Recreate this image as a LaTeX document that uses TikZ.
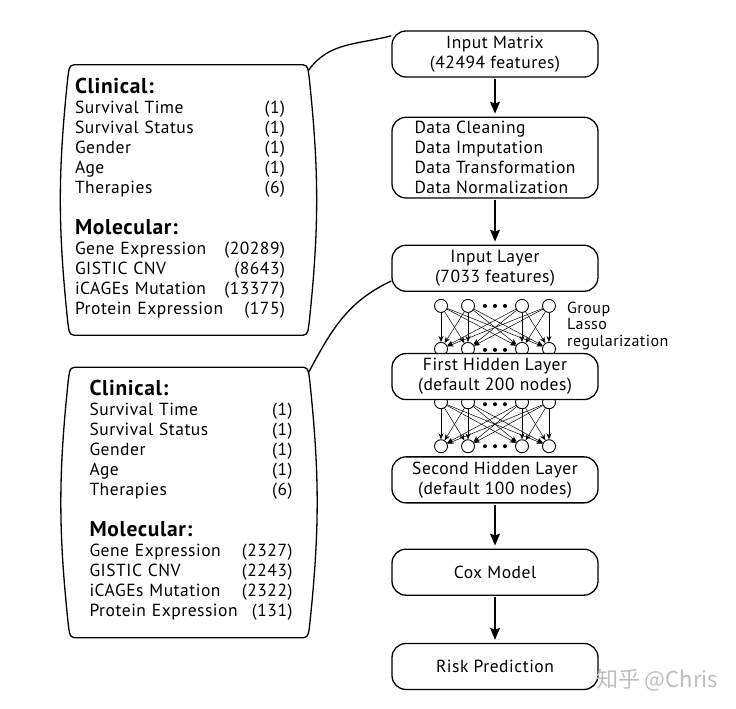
\documentclass[tikz,border=0pt]{standalone}
\usepackage{fontspec}
\setmainfont{PT Sans}[LetterSpace=3]
\newfontfamily\cjkfont{Noto Sans CJK SC}
\usetikzlibrary{arrows.meta, positioning, calc, backgrounds}

\newcommand{\grouphead}[1]{{\bfseries\fontsize{21.5}{20}\selectfont #1}}
\newcommand{\featoutline}[1]{%
  \draw[featline] ([xshift=14pt]#1.north west) -- ([xshift=-14pt]#1.north east)
    to[out=0,in=100] ([xshift=-8pt,yshift=-13pt]#1.north east)
    to[out=-84,in=84] ([xshift=-8pt,yshift=13pt]#1.south east)
    to[out=-100,in=0] ([xshift=-14pt]#1.south east)
    -- ([xshift=14pt]#1.south west)
    to[out=180,in=-80] ([xshift=8pt,yshift=13pt]#1.south west)
    to[out=96,in=-96] ([xshift=8pt,yshift=-13pt]#1.north west)
    to[out=80,in=180] cycle;}

\begin{document}
\begin{tikzpicture}[
    x=1pt, y=1pt,
    node distance=40pt,
    box/.style={rectangle, draw, rounded corners=14pt, line width=1.3pt, fill=white, minimum width=206pt, minimum height=46pt, inner ysep=4pt, align=center, font=\fontsize{17.5}{20}\selectfont},
    featframe/.style={rectangle, minimum width=257pt, minimum height=270pt, inner sep=0pt},
    featline/.style={line width=1.3pt},
    feat/.style={anchor=north west, inner sep=0pt, align=left, font=\fontsize{17.5}{20}\selectfont},
    neuron/.style={circle, draw, line width=0.9pt, fill=white, minimum size=13pt, inner sep=0pt},
    neurondot/.style={circle, fill, minimum size=4pt, inner sep=0pt},
    synapse/.style={line width=0.5pt, -{Stealth[length=6pt,width=5pt]}},
    arrow/.style={line width=1.4pt, -{Stealth[length=12pt,width=10pt,inset=2pt]}, shorten >=3pt, shorten <=1pt},
    linkline/.style={line width=1.3pt}
]
\useasboundingbox (0,0) rectangle (736,-709);

% Pipeline
\node[box] (matrix) at (495,-54) {Input Matrix\\(42494 features)};
\node[box, below=39pt of matrix, align=left] (clean) {Data Cleaning\\Data Imputation\\Data Transformation\\Data Normalization};
\node[box, below=46pt of clean] (inlayer) {Input Layer\\(7033 features)};
\node[box, below=61pt of inlayer] (hidden1) {First Hidden Layer\\(default 200 nodes)};
\node[box, below=56pt of hidden1] (hidden2) {Second Hidden Layer\\(default 100 nodes)};
\node[box, below=45pt of hidden2] (cox) {Cox Model};
\node[box, below=47pt of cox] (risk) {Risk Prediction};

% Arrows
\draw[arrow] (matrix) -- (clean);
\draw[arrow] (clean) -- (inlayer);
\draw[arrow] (hidden2) -- (cox);
\draw[arrow] (cox) -- (risk);

% Network layers
\begin{scope}[on background layer]
\foreach \i/\dx in {1/-54,2/-27,3/27,4/54} {
  \node[neuron] (a\i) at ([xshift=\dx pt,yshift=-14pt]inlayer.south) {};
  \node[neuron] (b\i) at ([xshift=\dx pt,yshift=-57pt]inlayer.south) {};
  \node[neuron] (c\i) at ([xshift=\dx pt,yshift=-2pt]hidden1.south) {};
  \node[neuron] (d\i) at ([xshift=\dx pt,yshift=-46pt]hidden1.south) {};
}
\foreach \dx [count=\k] in {-10,0,10} {
  \node[neurondot] (adot\k) at ([xshift=\dx pt,yshift=-14pt]inlayer.south) {};
  \node[neurondot] (bdot\k) at ([xshift=\dx pt,yshift=-58pt]inlayer.south) {};
  \node[neurondot] (cdot\k) at ([xshift=\dx pt,yshift=-4pt]hidden1.south) {};
  \node[neurondot] (ddot\k) at ([xshift=\dx pt,yshift=-46pt]hidden1.south) {};
}
\foreach \i in {1,...,4} \foreach \j in {1,...,4} {
  \draw[synapse] (a\i) -- (b\j);
  \draw[synapse] (c\i) -- (d\j);
}
\end{scope}

% Regularization label
\node[font=\fontsize{16}{16.5}\selectfont, align=left, anchor=west, inner sep=0pt] (lasso) at ([xshift=11pt,yshift=-20pt]a4.east) {Group\\Lasso\\regularization};

% Raw features
\node[featframe] (clin1) at (188.5,-200) {};
\featoutline{clin1}
\node[feat, text width=210pt] (clin1txt) at ([xshift=15pt,yshift=-13pt]clin1.north west) {%
\grouphead{Clinical:}\\
Survival Time\hfill(1)\\
Survival Status\hfill(1)\\
Gender\hfill(1)\\
Age\hfill(1)\\
Therapies\hfill(6)\\[21pt]
\grouphead{Molecular:}\\
Gene Expression\hfill(20289)\\
GISTIC CNV\hfill(8643)\\
iCAGEs Mutation\hfill(13377)\\
Protein Expression\hfill(175)};

% Selected features
\node[featframe] (clin2) at (189,-502.5) {};
\featoutline{clin2}
\node[feat, text width=203pt] (clin2txt) at ([xshift=29pt,yshift=-13pt]clin2.north west) {%
\grouphead{Clinical:}\\
Survival Time\hfill(1)\\
Survival Status\hfill(1)\\
Gender\hfill(1)\\
Age\hfill(1)\\
Therapies\hfill(6)\\[21pt]
\grouphead{Molecular:}\\
Gene Expression\hfill(2327)\\
GISTIC CNV\hfill(2243)\\
iCAGEs Mutation\hfill(2322)\\
Protein Expression\hfill(131)};

% Links
\coordinate (clin1tip) at ([xshift=-9pt,yshift=-6pt]clin1.north east);
\coordinate (clin2tip) at ([xshift=-9pt,yshift=-5pt]clin2.north east);
\draw[linkline] (clin1tip) to[out=55,in=195] (matrix.170);
\draw[linkline] (clin2tip) to[out=62,in=205] (inlayer.187);

% Watermark
\node[font=\cjkfont\fontsize{22}{24}\selectfont, text=gray!50] (mark) at (657,-680) {知乎 @Chris};

\end{tikzpicture}
\end{document}
